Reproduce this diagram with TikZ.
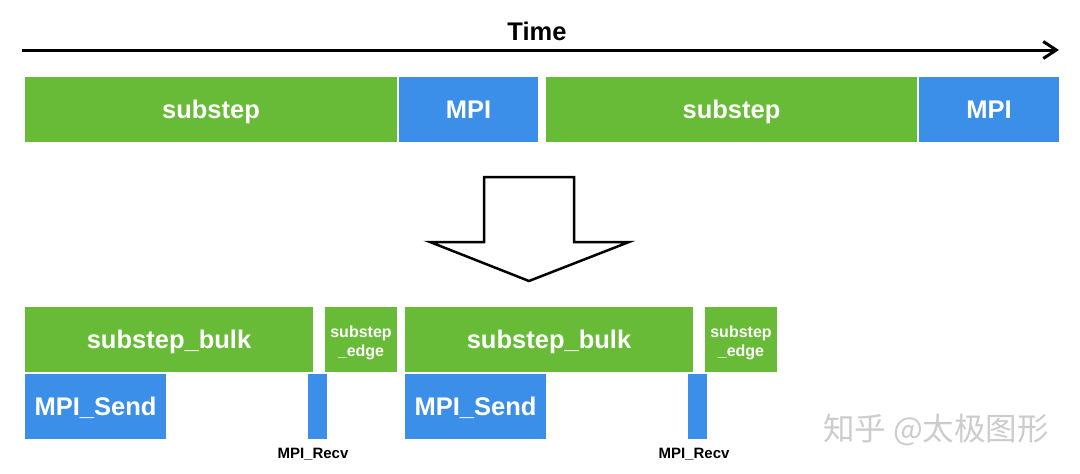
\documentclass[tikz,border=0pt]{standalone}
\usepackage{fontspec}
\setmainfont{Liberation Sans}
\newfontfamily\cjk{Noto Sans CJK SC}
\usetikzlibrary{arrows.meta}
\definecolor{stepgreen}{RGB}{104,187,54}
\definecolor{mpiblue}{RGB}{59,143,233}
\tikzset{
  bar/.style={rectangle, inner sep=0pt, text=white,
    font=\bfseries\fontsize{25.5}{25.5}\selectfont, text height=18.4pt, text depth=0pt},
  greenbar/.style={bar, fill=stepgreen},
  bluebar/.style={bar, fill=mpiblue},
  edgebar/.style={rectangle, inner sep=0pt, fill=stepgreen},
  edgetext/.style={inner sep=0pt, text=white, align=center,
    font=\bfseries\fontsize{16}{19}\selectfont},
  recvlabel/.style={font=\bfseries\fontsize{15}{15}\selectfont, text=black, inner sep=0pt,
    text height=10.8pt, text depth=0pt},
  bigarrow/.style={draw=black, line width=2.5pt, fill=white, line join=miter},
}
\begin{document}
\begin{tikzpicture}[x=1pt,y=-1pt]
\useasboundingbox (0,0) rectangle (1080,474);
% time axis
\coordinate (tstart) at (22,50);
\coordinate (tend) at (1059,50);
\draw[line width=3pt, -{Straight Barb[length=13pt,width=17pt,line width=3pt]}] (tstart) -- (tend);
\node[font=\bfseries\fontsize{25.5}{25.5}\selectfont, inner sep=0pt, text height=18.4pt, text depth=0pt] (time) at (537,31) {Time};
% top row
\node[greenbar, minimum width=372pt, minimum height=65pt] (s1) at (211,109.5) {substep};
\node[bluebar, minimum width=139pt, minimum height=65pt] (m1) at (468.5,109.5) {MPI};
\node[greenbar, minimum width=371pt, minimum height=65pt] (s2) at (731.5,109.5) {substep};
\node[bluebar, minimum width=140pt, minimum height=65pt] (m2) at (989,109.5) {MPI};
% big arrow
\draw[bigarrow] (484,177) -- (574,177) -- (574,242) -- (629,242) -- (529,281) -- (430,242) -- (484,242) -- cycle;
% bottom row, first
\node[greenbar, minimum width=288pt, minimum height=65pt] (b1) at (169,339.5) {substep\_bulk};
\node[edgebar, minimum width=72pt, minimum height=65pt] (e1) at (361,339.5) {};
\node[edgetext] (e1t) at (361,342.5) {substep\\\_edge};
\node[bluebar, minimum width=141pt, minimum height=65pt] (ms1) at (95.5,406.5) {MPI\_Send};
\node[bluebar, minimum width=19pt, minimum height=65pt] (mr1) at (317.5,406.5) {};
\node[recvlabel] (rl1) at (313,453) {MPI\_Recv};
% bottom row, second
\node[greenbar, minimum width=288pt, minimum height=65pt] (b2) at (549,339.5) {substep\_bulk};
\node[edgebar, minimum width=72pt, minimum height=65pt] (e2) at (741,339.5) {};
\node[edgetext] (e2t) at (741,342.5) {substep\\\_edge};
\node[bluebar, minimum width=141pt, minimum height=65pt] (ms2) at (475.5,406.5) {MPI\_Send};
\node[bluebar, minimum width=19pt, minimum height=65pt] (mr2) at (697.5,406.5) {};
\node[recvlabel] (rl2) at (694,453) {MPI\_Recv};
% watermark
\node[font=\cjk\fontsize{31.5}{31.5}\selectfont, text=black!20, inner sep=0pt] (wm) at (936,430) {知乎 @太极图形};
\end{tikzpicture}
\end{document}
